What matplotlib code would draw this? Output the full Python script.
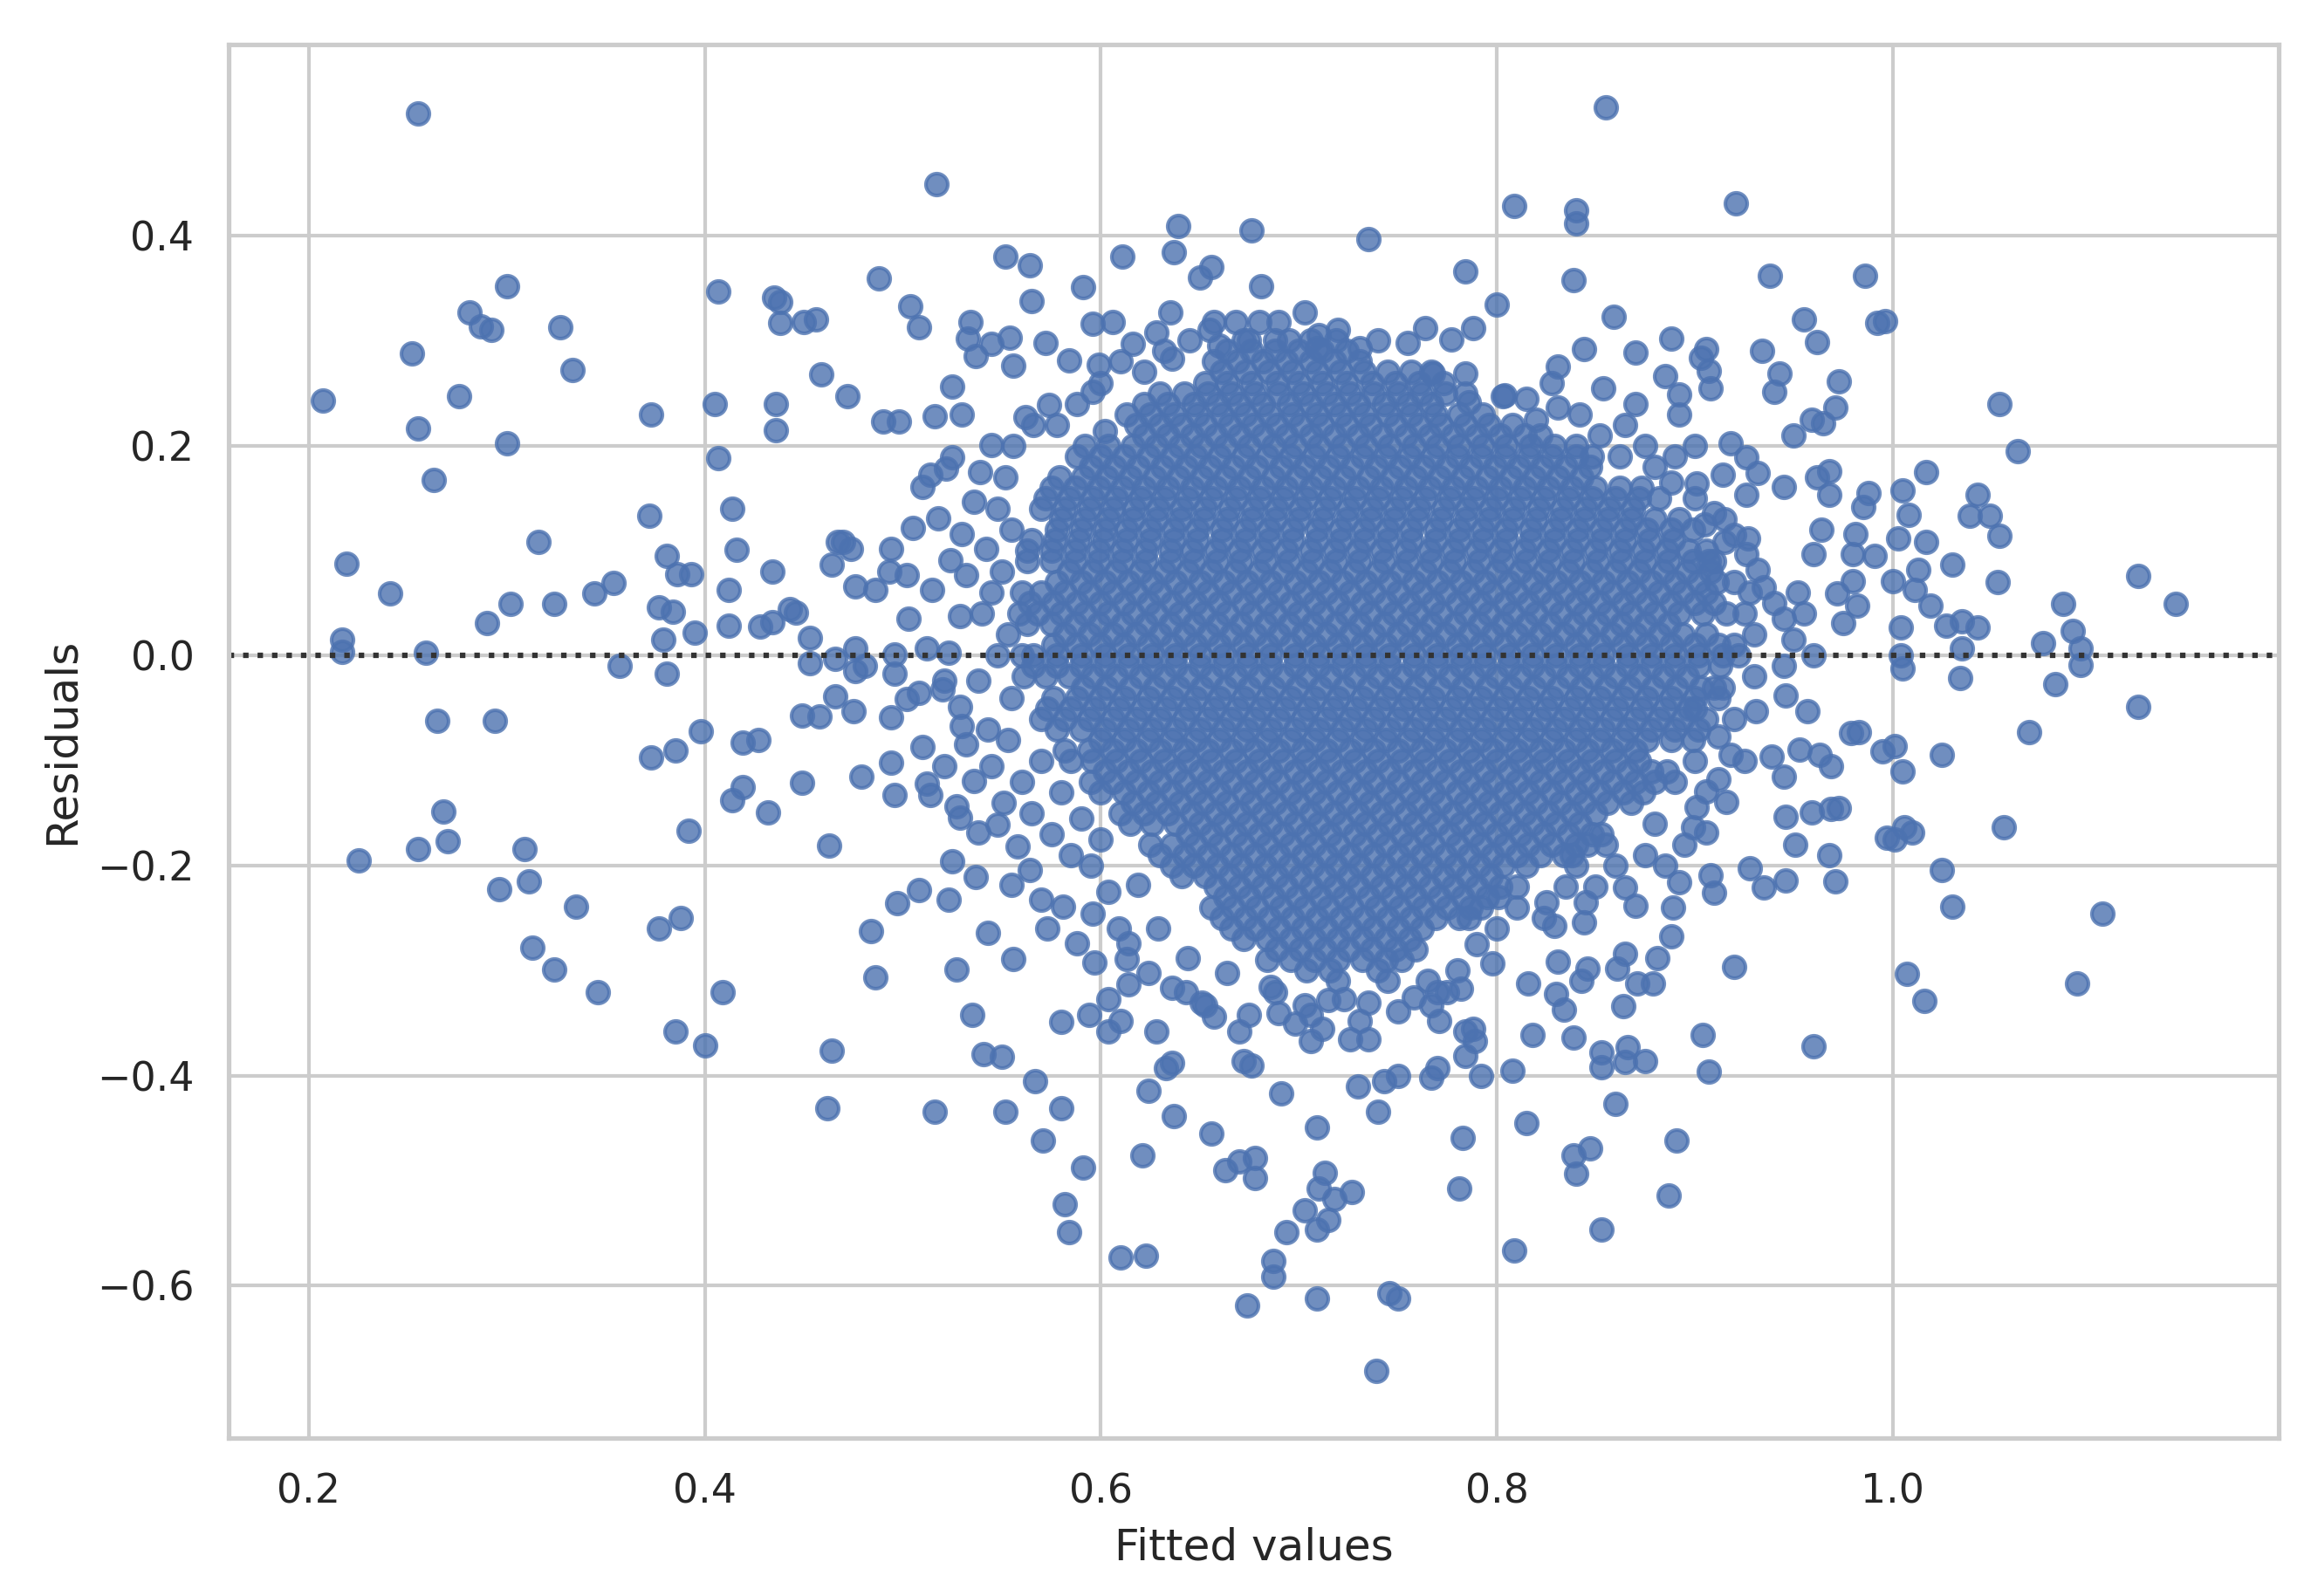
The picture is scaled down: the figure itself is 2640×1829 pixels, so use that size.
import matplotlib
matplotlib.use("Agg")
import matplotlib.pyplot as plt
import seaborn as sns
import numpy as np

# ---------------- data ----------------
# sparse points left of x = 0.5 : (fitted value, residual)
left_pts = [
    (0.207,0.243),(0.255,0.516),(0.219,0.088),(0.241,0.059),(0.217,0.015),(0.217,0.004),
    (0.252,0.288),(0.255,0.216),(0.263,0.167),(0.276,0.247),(0.281,0.327),(0.287,0.314),
    (0.292,0.310),(0.300,0.352),(0.300,0.202),(0.327,0.313),(0.333,0.272),(0.316,0.108),
    (0.290,0.031),(0.302,0.049),(0.324,0.049),(0.344,0.059),(0.354,0.069),(0.357,-0.010),
    (0.259,0.003),(0.265,-0.062),(0.294,-0.062),(0.225,-0.195),(0.255,-0.184),(0.268,-0.148),
    (0.270,-0.177),(0.309,-0.184),(0.311,-0.215),(0.296,-0.222),(0.313,-0.278),(0.324,-0.299),
    (0.335,-0.239),(0.346,-0.320),(0.373,0.230),(0.372,0.133),(0.373,-0.097),(0.377,-0.260),
    (0.381,0.095),(0.377,0.046),(0.379,0.015),(0.381,-0.017),(0.385,-0.090),(0.385,-0.358),
    (0.388,-0.250),(0.386,0.078),(0.393,0.078),(0.384,0.042),(0.392,-0.167),(0.395,0.022),
    (0.398,-0.072),(0.400,-0.371),(0.405,0.240),(0.407,0.347),(0.407,0.188),(0.409,-0.320),
    (0.414,0.140),(0.416,0.101),(0.412,0.063),(0.412,0.029),(0.414,-0.138),(0.419,-0.125),
    (0.419,-0.083),(0.427,-0.080),(0.428,0.028),(0.434,0.032),(0.434,0.080),(0.432,-0.149),
    (0.435,0.341),(0.438,0.337),(0.438,0.317),(0.436,0.240),(0.436,0.215),(0.443,0.044),
    (0.446,0.041),(0.449,-0.121),(0.449,-0.057),(0.450,0.318),(0.453,0.017),(0.453,-0.007),
    (0.458,-0.058),(0.456,0.320),(0.459,0.268),(0.472,0.247),(0.464,0.087),(0.463,-0.181),
    (0.462,-0.431),(0.464,-0.376),(0.467,0.108),(0.470,0.108),(0.466,-0.039),(0.466,-0.003),
    (0.475,-0.053),(0.474,0.102),(0.476,0.007),(0.476,-0.015),(0.476,0.066),(0.479,-0.115),
    (0.481,-0.010),(0.484,-0.262),(0.486,0.063),(0.486,-0.306),(0.488,0.359),(0.490,0.223),
    (0.498,0.223),(0.493,0.080),(0.494,0.102),(0.494,-0.059),(0.496,-0.017),(0.496,0.001),
    (0.496,-0.133),(0.494,-0.102),(0.497,-0.236),
]

# sparse points between x = 0.5 and the dense core
midleft_pts = [
    (0.502,0.077),(0.503,0.035),(0.502,-0.041),(0.504,0.333),(0.505,0.122),(0.508,-0.223),
    (0.508,0.313),(0.510,-0.087),(0.512,-0.122),(0.514,0.172),(0.515,0.063),(0.516,-0.434),
    (0.517,0.449),(0.516,0.228),(0.518,0.131),(0.521,-0.024),(0.523,0.003),(0.524,0.091),
    (0.522,0.178),(0.523,-0.232),(0.525,-0.196),(0.525,0.189),(0.525,0.256),(0.527,-0.143),
    (0.527,-0.299),(0.529,0.038),(0.530,-0.067),(0.530,0.230),(0.533,0.302),(0.534,0.318),
    (0.535,-0.342),(0.537,-0.211),(0.537,0.285),(0.543,-0.264),(0.545,0.297),(0.545,0.201),
    (0.541,-0.379),(0.550,-0.382),(0.552,0.380),(0.552,-0.434),(0.554,0.303),(0.556,-0.289),
    (0.556,0.276),(0.562,0.227),(0.564,0.372),(0.565,0.338),(0.567,-0.405),(0.571,-0.462),
    (0.572,0.298),(0.574,0.239),(0.580,-0.349),(0.580,-0.431),(0.582,-0.522),(0.584,-0.549),
    (0.584,0.281),(0.591,0.351),(0.591,-0.487),(0.594,-0.342),(0.596,0.316),(0.596,0.251),
    (0.597,-0.292),(0.599,0.277),(0.602,0.214),(0.604,-0.327),(0.604,-0.358),(0.606,0.318),
    (0.610,-0.348),(0.610,-0.573),(0.611,0.380),(0.613,-0.289),(0.614,-0.313),(0.616,0.297),
    (0.621,-0.476),(0.623,-0.571),(0.624,-0.414),(0.628,-0.358),(0.628,0.308),(0.633,-0.393),
    (0.636,-0.388),(0.636,0.283),(0.635,0.327),(0.637,-0.438),(0.637,0.384),(0.639,0.409),
    (0.643,-0.320),
    (0.510,0.161),(0.530,0.116),(0.536,0.147),(0.539,0.175),(0.548,0.140),(0.542,0.102),
    (0.532,0.077),(0.545,0.060),(0.540,0.040),(0.512,0.007),(0.508,-0.035),(0.520,-0.032),
    (0.529,-0.049),(0.538,-0.024),(0.543,-0.070),(0.532,-0.084),(0.521,-0.105),(0.514,-0.133),
    (0.536,-0.119),(0.545,-0.105),(0.551,-0.140),(0.529,-0.154),(0.538,-0.168),(0.548,-0.161),
    (0.558,-0.182),(0.564,-0.204),(0.555,-0.218),(0.570,-0.232),(0.573,-0.260),(0.581,-0.239),
    (0.588,-0.274),(0.596,-0.246),(0.604,-0.225),(0.609,-0.260),(0.614,-0.274),(0.619,-0.218),
    (0.624,-0.302),(0.629,-0.260),(0.636,-0.316),(0.644,-0.288),(0.651,-0.330),(0.657,-0.344),
    (0.664,-0.302),(0.670,-0.358),
    (0.552,0.170),(0.555,0.120),(0.550,0.080),(0.553,0.020),(0.548,0.000),(0.555,-0.040),
    (0.553,-0.080),(0.560,-0.120),(0.565,-0.150),(0.575,-0.170),(0.585,-0.190),(0.595,-0.200),
    (0.600,-0.175),(0.590,-0.155),(0.580,-0.130),(0.570,-0.100),(0.556,0.200),(0.566,0.220),
    (0.578,0.220),(0.588,0.240),(0.600,0.260),(0.610,0.280),(0.622,0.270),(0.632,0.290),
    (0.645,0.300),(0.655,0.310),
]

# sparse points above the dense core
top_pts = [
    (0.656,0.370),(0.650,0.360),(0.681,0.352),(0.676,0.405),(0.735,0.397),(0.809,0.428),
    (0.784,0.366),(0.800,0.334),(0.657,0.318),(0.668,0.318),(0.680,0.318),(0.690,0.318),
    (0.703,0.327),(0.710,0.305),(0.709,0.293),(0.764,0.312),(0.777,0.301),(0.788,0.312),
    (0.755,0.298),(0.731,0.293),(0.768,0.269),(0.784,0.269),(0.804,0.248),(0.786,0.241),
    (0.720,0.310),(0.740,0.300),(0.695,0.300),(0.660,0.295),(0.675,0.300),
]

# sparse points right of the core, above zero
right_top_pts = [
    (0.855,0.522),(0.840,0.424),(0.840,0.412),(0.921,0.431),(0.839,0.358),(0.938,0.362),
    (0.986,0.362),(0.859,0.323),(0.955,0.320),(0.992,0.317),(0.962,0.299),(0.888,0.302),
    (0.844,0.292),(0.870,0.289),(0.831,0.275),(0.906,0.292),(0.903,0.284),(0.907,0.271),
    (0.908,0.255),(0.934,0.290),(0.943,0.269),(0.940,0.251),(0.973,0.261),(0.971,0.236),
    (0.965,0.221),(0.959,0.225),(0.950,0.210),(0.885,0.266),(0.892,0.249),(0.892,0.230),
    (0.854,0.255),(0.803,0.247),(0.831,0.236),(1.054,0.240),(1.063,0.195),(1.017,0.175),
    (0.914,0.172),(0.926,0.153),(0.945,0.161),(0.968,0.176),(0.968,0.153),(0.962,0.170),
    (0.988,0.155),(0.985,0.142),(1.005,0.157),(1.008,0.134),(1.003,0.112),(1.043,0.153),
    (1.039,0.133),(1.049,0.133),(1.054,0.114),(1.017,0.108),(1.030,0.087),(1.053,0.070),
    (1.124,0.076),(1.143,0.049),(1.086,0.049),(1.091,0.024),(1.095,0.007),(1.076,0.012),
    (1.004,0.027),(1.019,0.048),(1.027,0.029),(1.035,0.033),(1.043,0.027),(1.035,0.007),
    (1.000,0.071),(1.011,0.063),(1.013,0.082),(0.960,0.097),(0.964,0.120),(0.981,0.116),
    (0.980,0.097),(0.991,0.095),(0.972,0.059),(0.980,0.071),(0.982,0.048),(0.975,0.031),
    (0.932,0.174),(0.926,0.189),(0.918,0.202),(0.901,0.164),(0.910,0.136),(0.915,0.108),
    (0.926,0.097),(0.932,0.082),(0.927,0.112),
    (0.940,0.050),(0.945,0.035),(0.952,0.060),(0.935,0.065),(0.925,0.040),(0.930,0.020),
    (0.950,0.015),(0.960,0.000),(0.945,-0.010),(0.930,-0.020),(0.955,0.040),
    (0.840,0.200),(0.852,0.210),(0.865,0.220),(0.875,0.200),(0.862,0.190),(0.880,0.180),
    (0.890,0.190),(0.900,0.200),(0.870,0.240),(0.820,0.225),(0.815,0.245),(0.828,0.260),
    (0.842,0.230),(0.888,0.165),(0.900,0.150),(0.905,0.125),(0.915,0.130),(0.920,0.115),
    (0.910,0.090),(0.920,0.070),(0.928,0.060),(0.996,0.319),
]

# sparse points right of the core, below zero
right_bottom_pts = [
    (1.124,-0.049),(1.069,-0.073),(1.082,-0.027),(1.095,-0.009),(1.034,-0.021),(1.005,-0.012),
    (1.004,0.000),(0.979,-0.074),(0.995,-0.091),(1.001,-0.086),(1.005,-0.110),(1.025,-0.094),
    (1.056,-0.163),(1.006,-0.163),(0.997,-0.173),(1.025,-0.204),(1.030,-0.239),(1.106,-0.246),
    (1.007,-0.303),(1.016,-0.329),(1.093,-0.312),(0.960,-0.372),(0.920,-0.296),(0.904,-0.361),
    (0.907,-0.396),(0.891,-0.462),(0.887,-0.514),(0.860,-0.427),(0.853,-0.546),(0.809,-0.566),
    (0.815,-0.445),(0.839,-0.476),(0.847,-0.469),(0.840,-0.493),(0.818,-0.361),(0.839,-0.364),
    (0.853,-0.378),(0.866,-0.373),(0.875,-0.386),(0.853,-0.392),(0.865,-0.387),(0.864,-0.334),
    (0.816,-0.312),(0.830,-0.322),(0.834,-0.337),(0.846,-0.298),(0.843,-0.310),(0.831,-0.291),
    (0.861,-0.298),(0.865,-0.284),(0.871,-0.312),(0.879,-0.312),(0.881,-0.288),(0.888,-0.267),
    (0.798,-0.293),(0.844,-0.254),(0.829,-0.257),(0.824,-0.250),(0.870,-0.238),(0.865,-0.221),
    (0.889,-0.240),(0.892,-0.216),(0.910,-0.226),(0.908,-0.209),(0.935,-0.221),(0.946,-0.214),
    (0.928,-0.202),(0.971,-0.215),(0.968,-0.190),(0.951,-0.180),(0.946,-0.153),(0.959,-0.149),
    (0.969,-0.146),(0.973,-0.145),(0.939,-0.096),(0.945,-0.115),(0.953,-0.089),(0.963,-0.094),
    (0.969,-0.105),(0.957,-0.053),(0.946,-0.038),(0.931,-0.053),(0.918,-0.094),(0.912,-0.077),
    (0.916,-0.139),(0.912,-0.118),(0.906,-0.129),(0.901,-0.144),(0.899,-0.163),(0.906,-0.168),
    (0.983,-0.073),(1.001,-0.175),(1.010,-0.168),
    (0.900,-0.050),(0.910,-0.030),(0.920,-0.060),(0.925,-0.100),(0.900,-0.100),(0.890,-0.120),
    (0.895,-0.180),(0.880,-0.160),(0.875,-0.190),(0.885,-0.200),(0.860,-0.200),(0.855,-0.180),
    (0.850,-0.220),(0.845,-0.235),(0.835,-0.220),(0.840,-0.200),(0.825,-0.235),(0.810,-0.240),
    (0.800,-0.260),(0.790,-0.275),(0.780,-0.300),(0.775,-0.320),(0.765,-0.310),
]

# sparse points below the core
bottom_pts = [
    (0.653,-0.333),(0.656,-0.455),(0.663,-0.490),(0.670,-0.482),(0.678,-0.478),(0.678,-0.497),
    (0.674,-0.619),(0.672,-0.386),(0.676,-0.390),(0.675,-0.342),(0.687,-0.576),(0.687,-0.591),
    (0.688,-0.320),(0.691,-0.417),(0.694,-0.549),(0.703,-0.528),(0.709,-0.546),(0.715,-0.537),
    (0.710,-0.507),(0.713,-0.492),(0.718,-0.517),(0.727,-0.511),(0.709,-0.612),(0.709,-0.449),
    (0.739,-0.681),(0.746,-0.607),(0.750,-0.612),(0.740,-0.434),(0.730,-0.410),(0.743,-0.405),
    (0.750,-0.400),(0.767,-0.402),(0.770,-0.393),(0.784,-0.381),(0.789,-0.367),(0.788,-0.355),
    (0.781,-0.507),(0.783,-0.459),(0.706,-0.367),(0.735,-0.365),(0.726,-0.365),(0.731,-0.348),
    (0.750,-0.339),(0.771,-0.348),(0.767,-0.333),(0.770,-0.320),(0.782,-0.317),(0.784,-0.358),
    (0.706,-0.342),(0.703,-0.333),(0.715,-0.328),(0.723,-0.327),(0.792,-0.400),(0.808,-0.395),
    (0.686,-0.315),(0.698,-0.350),(0.720,-0.310),(0.735,-0.330),(0.745,-0.310),(0.758,-0.325),
    (0.690,-0.340),(0.712,-0.355),
]

# dense core, even rows: residual level of each row and the fitted values along it
core_levels = [0.30, 0.28, 0.26, 0.24, 0.22, 0.20, 0.18, 0.16, 0.14, 0.12, 0.10,
               0.08, 0.06, 0.04, 0.02, 0.00, -0.02, -0.04, -0.06, -0.08, -0.10,
               -0.12, -0.14, -0.16, -0.18, -0.20, -0.22, -0.24, -0.26, -0.28, -0.30]
core_rows = [
    [0.672,0.688,0.706,0.719],
    [0.657,0.669,0.682,0.694,0.706,0.718,0.731],
    [0.653,0.664,0.676,0.689,0.700,0.712,0.724,0.737,0.749,0.761,0.773],
    [0.622,0.634,0.647,0.659,0.670,0.682,0.695,0.706,0.718,0.730,0.743,0.755,0.767],
    [0.618,0.630,0.641,0.653,0.665,0.677,0.689,0.701,0.712,0.724,0.736,0.749,0.761,0.772,0.784,0.796,0.808],
    [0.592,0.604,0.616,0.628,0.640,0.651,0.663,0.675,0.687,0.698,0.710,0.722,0.734,0.746,0.758,0.770,0.781,0.793,0.805,0.817,0.829],
    [0.595,0.607,0.619,0.631,0.643,0.655,0.667,0.679,0.691,0.703,0.715,0.727,0.739,0.751,0.763,0.775,0.787,0.799,0.811,0.823,0.835,0.847],
    [0.575,0.587,0.599,0.611,0.622,0.634,0.646,0.658,0.670,0.682,0.694,0.706,0.718,0.730,0.742,0.754,0.766,0.778,0.790,0.802,0.814,0.826,0.838,0.850,0.862,0.873],
    [0.570,0.582,0.594,0.606,0.617,0.629,0.641,0.653,0.665,0.677,0.689,0.701,0.713,0.725,0.737,0.749,0.761,0.773,0.785,0.797,0.809,0.821,0.833,0.845,0.857,0.869],
    [0.578,0.590,0.602,0.613,0.625,0.637,0.649,0.661,0.673,0.685,0.697,0.709,0.721,0.733,0.745,0.757,0.769,0.781,0.793,0.805,0.817,0.829,0.841,0.853,0.865,0.876,0.888,0.899],
    [0.563,0.575,0.587,0.599,0.611,0.623,0.635,0.646,0.658,0.670,0.682,0.694,0.706,0.718,0.730,0.742,0.754,0.766,0.778,0.790,0.802,0.814,0.826,0.838,0.850,0.862,0.874,0.886,0.897,0.906],
    [0.584,0.596,0.608,0.620,0.632,0.644,0.656,0.668,0.680,0.692,0.704,0.716,0.728,0.740,0.752,0.764,0.776,0.788,0.800,0.812,0.824,0.836,0.848,0.860,0.872,0.884,0.896,0.908],
    [0.560,0.570,0.582,0.594,0.606,0.618,0.630,0.642,0.654,0.666,0.678,0.690,0.702,0.714,0.726,0.738,0.750,0.762,0.774,0.786,0.798,0.810,0.822,0.834,0.846,0.858,0.870,0.882,0.894,0.906],
    [0.559,0.568,0.580,0.592,0.604,0.616,0.628,0.640,0.652,0.664,0.676,0.688,0.700,0.712,0.724,0.736,0.748,0.760,0.772,0.784,0.796,0.808,0.820,0.832,0.844,0.856,0.868,0.880,0.892,0.904,0.916],
    [0.582,0.594,0.606,0.618,0.630,0.642,0.654,0.666,0.678,0.690,0.702,0.714,0.726,0.738,0.750,0.762,0.774,0.786,0.798,0.810,0.822,0.834,0.846,0.858,0.870,0.882,0.894,0.906],
    [0.560,0.566,0.578,0.590,0.602,0.614,0.626,0.638,0.650,0.662,0.674,0.686,0.698,0.710,0.722,0.734,0.746,0.758,0.770,0.782,0.794,0.806,0.818,0.830,0.842,0.854,0.866,0.878,0.890,0.902,0.914,0.922],
    [0.561,0.572,0.584,0.596,0.608,0.620,0.632,0.644,0.656,0.668,0.680,0.692,0.704,0.716,0.728,0.740,0.752,0.764,0.776,0.788,0.800,0.812,0.824,0.836,0.848,0.860,0.872,0.884,0.896],
    [0.576,0.588,0.600,0.612,0.624,0.636,0.648,0.660,0.672,0.684,0.696,0.708,0.720,0.732,0.744,0.756,0.768,0.780,0.792,0.804,0.816,0.828,0.840,0.852,0.864,0.876,0.888,0.900,0.912],
    [0.570,0.582,0.594,0.606,0.618,0.630,0.642,0.654,0.666,0.678,0.690,0.702,0.714,0.726,0.738,0.750,0.762,0.774,0.786,0.798,0.810,0.822,0.834,0.846,0.858,0.870,0.882,0.894,0.906],
    [0.600,0.612,0.624,0.636,0.648,0.660,0.672,0.684,0.696,0.708,0.720,0.732,0.744,0.756,0.768,0.780,0.792,0.804,0.816,0.828,0.840,0.852,0.864,0.876,0.888,0.899],
    [0.585,0.596,0.608,0.620,0.632,0.644,0.656,0.668,0.680,0.692,0.704,0.716,0.728,0.740,0.752,0.764,0.776,0.788,0.800,0.812,0.824,0.836,0.848,0.860,0.872],
    [0.595,0.606,0.618,0.630,0.642,0.654,0.666,0.678,0.690,0.702,0.714,0.726,0.738,0.750,0.762,0.774,0.786,0.798,0.810,0.822,0.834,0.846,0.858,0.870,0.880],
    [0.616,0.628,0.640,0.652,0.664,0.676,0.688,0.700,0.712,0.724,0.736,0.748,0.760,0.772,0.784,0.796,0.808,0.820,0.832,0.844,0.856,0.868],
    [0.615,0.626,0.638,0.650,0.662,0.674,0.686,0.698,0.710,0.722,0.734,0.746,0.758,0.770,0.782,0.794,0.806,0.818,0.830,0.842],
    [0.625,0.636,0.648,0.660,0.672,0.684,0.696,0.708,0.720,0.732,0.744,0.756,0.768,0.780,0.792,0.804,0.816,0.828,0.840,0.846],
    [0.636,0.647,0.659,0.671,0.683,0.695,0.707,0.719,0.731,0.743,0.755,0.767,0.779,0.791,0.803,0.815],
    [0.658,0.670,0.682,0.694,0.706,0.718,0.730,0.742,0.754,0.766,0.778,0.790,0.802,0.810],
    [0.656,0.667,0.679,0.691,0.703,0.715,0.727,0.739,0.751,0.763,0.775,0.787,0.792],
    [0.666,0.678,0.690,0.702,0.714,0.726,0.738,0.750,0.762],
    [0.689,0.701,0.713,0.725,0.737,0.749,0.759],
    [0.704,0.716,0.740],
]

# dense core, odd rows (in between the even rows)
core_levels_b = [0.29, 0.27, 0.25, 0.23, 0.21, 0.19, 0.17, 0.15, 0.13, 0.11, 0.09,
                 0.07, 0.05, 0.03, 0.01, -0.01, -0.03, -0.05, -0.07, -0.09, -0.11,
                 -0.13, -0.15, -0.17, -0.19, -0.21, -0.23, -0.25, -0.27, -0.29]
core_rows_b = [
    [0.664,0.676,0.688,0.700,0.712,0.724],
    [0.661,0.673,0.685,0.697,0.709,0.721,0.733,0.745,0.757,0.767],
    [0.630,0.642,0.654,0.666,0.678,0.690,0.702,0.714,0.726,0.738,0.750,0.762,0.774,0.784],
    [0.613,0.625,0.637,0.649,0.661,0.673,0.685,0.697,0.709,0.721,0.733,0.745,0.757,0.769,0.781,0.793],
    [0.622,0.634,0.646,0.658,0.670,0.682,0.694,0.706,0.718,0.730,0.742,0.754,0.766,0.778,0.790,0.802,0.814,0.822],
    [0.588,0.600,0.612,0.624,0.636,0.648,0.660,0.672,0.684,0.696,0.708,0.720,0.732,0.744,0.756,0.768,0.780,0.792,0.804,0.816,0.828,0.840,0.848],
    [0.579,0.591,0.603,0.615,0.627,0.639,0.651,0.663,0.675,0.687,0.699,0.711,0.723,0.735,0.747,0.759,0.771,0.783,0.795,0.807,0.819,0.831,0.843],
    [0.572,0.584,0.596,0.608,0.620,0.632,0.644,0.656,0.668,0.680,0.692,0.704,0.716,0.728,0.740,0.752,0.764,0.776,0.788,0.800,0.812,0.824,0.836,0.848,0.860,0.872,0.882],
    [0.580,0.592,0.604,0.616,0.628,0.640,0.652,0.664,0.676,0.688,0.700,0.712,0.724,0.736,0.748,0.760,0.772,0.784,0.796,0.808,0.820,0.832,0.844,0.856,0.868,0.880,0.892],
    [0.565,0.577,0.589,0.601,0.613,0.625,0.637,0.649,0.661,0.673,0.685,0.697,0.709,0.721,0.733,0.745,0.757,0.769,0.781,0.793,0.805,0.817,0.829,0.841,0.853,0.865,0.877,0.889],
    [0.563,0.575,0.587,0.599,0.611,0.623,0.635,0.647,0.659,0.671,0.683,0.695,0.707,0.719,0.731,0.743,0.755,0.767,0.779,0.791,0.803,0.815,0.827,0.839,0.851,0.863,0.875,0.887,0.899,0.907],
    [0.578,0.590,0.602,0.614,0.626,0.638,0.650,0.662,0.674,0.686,0.698,0.710,0.722,0.734,0.746,0.758,0.770,0.782,0.794,0.806,0.818,0.830,0.842,0.854,0.866,0.878,0.890,0.902,0.911],
    [0.564,0.576,0.588,0.600,0.612,0.624,0.636,0.648,0.660,0.672,0.684,0.696,0.708,0.720,0.732,0.744,0.756,0.768,0.780,0.792,0.804,0.816,0.828,0.840,0.852,0.864,0.876,0.888,0.900,0.910],
    [0.563,0.575,0.587,0.599,0.611,0.623,0.635,0.647,0.659,0.671,0.683,0.695,0.707,0.719,0.731,0.743,0.755,0.767,0.779,0.791,0.803,0.815,0.827,0.839,0.851,0.863,0.875,0.887],
    [0.576,0.588,0.600,0.612,0.624,0.636,0.648,0.660,0.672,0.684,0.696,0.708,0.720,0.732,0.744,0.756,0.768,0.780,0.792,0.804,0.816,0.828,0.840,0.852,0.864,0.876,0.888,0.900,0.912,0.920],
    [0.566,0.578,0.590,0.602,0.614,0.626,0.638,0.650,0.662,0.674,0.686,0.698,0.710,0.722,0.734,0.746,0.758,0.770,0.782,0.794,0.806,0.818,0.830,0.842,0.854,0.866,0.878,0.890,0.902,0.913],
    [0.591,0.603,0.615,0.627,0.639,0.651,0.663,0.675,0.687,0.699,0.711,0.723,0.735,0.747,0.759,0.771,0.783,0.795,0.807,0.819,0.831,0.843,0.855,0.867,0.879,0.891,0.903,0.914],
    [0.573,0.585,0.597,0.609,0.621,0.633,0.645,0.657,0.669,0.681,0.693,0.705,0.717,0.729,0.741,0.753,0.765,0.777,0.789,0.801,0.813,0.825,0.837,0.849,0.861,0.873,0.885,0.897],
    [0.578,0.590,0.602,0.614,0.626,0.638,0.650,0.662,0.674,0.686,0.698,0.710,0.722,0.734,0.746,0.758,0.770,0.782,0.794,0.806,0.818,0.830,0.842,0.854,0.866,0.878,0.890,0.902],
    [0.582,0.594,0.606,0.618,0.630,0.642,0.654,0.666,0.678,0.690,0.702,0.714,0.726,0.738,0.750,0.762,0.774,0.786,0.798,0.810,0.822,0.834,0.846,0.858,0.870],
    [0.602,0.614,0.626,0.638,0.650,0.662,0.674,0.686,0.698,0.710,0.722,0.734,0.746,0.758,0.770,0.782,0.794,0.806,0.818,0.830,0.842,0.854,0.866,0.878,0.886],
    [0.600,0.612,0.624,0.636,0.648,0.660,0.672,0.684,0.696,0.708,0.720,0.732,0.744,0.756,0.768,0.780,0.792,0.804,0.816,0.828,0.840,0.852,0.864,0.874],
    [0.610,0.622,0.634,0.646,0.658,0.670,0.682,0.694,0.706,0.718,0.730,0.742,0.754,0.766,0.778,0.790,0.802,0.814,0.826,0.838,0.850],
    [0.644,0.656,0.668,0.680,0.692,0.704,0.716,0.728,0.740,0.752,0.764,0.776,0.788,0.800,0.812,0.824,0.836,0.848,0.853],
    [0.630,0.642,0.654,0.666,0.678,0.690,0.702,0.714,0.726,0.738,0.750,0.762,0.774,0.786,0.798,0.810,0.822,0.834,0.838],
    [0.641,0.653,0.665,0.677,0.689,0.701,0.713,0.725,0.737,0.749,0.761,0.773,0.785,0.797],
    [0.663,0.675,0.687,0.699,0.711,0.723,0.735,0.747,0.759,0.771,0.783,0.795,0.801],
    [0.661,0.673,0.685,0.697,0.709,0.721,0.733,0.745,0.757,0.769,0.781,0.786],
    [0.672,0.684,0.696,0.708,0.720,0.732,0.744,0.756],
    [0.684,0.696,0.708,0.720,0.732,0.744,0.752],
]
assert len(core_levels) == len(core_rows)
assert len(core_levels_b) == len(core_rows_b)

x_label = "Fitted values"
y_label = "Residuals"
x_ticks = [0.2, 0.4, 0.6, 0.8, 1.0]
y_ticks = [-0.6, -0.4, -0.2, 0.0, 0.2, 0.4]

# ---------------- assemble ----------------
fitted, resid = [], []
for group in (left_pts, midleft_pts, top_pts, right_top_pts, right_bottom_pts, bottom_pts):
    for fx, ry in group:
        fitted.append(fx)
        resid.append(ry)
for levels, rows in ((core_levels, core_rows), (core_levels_b, core_rows_b)):
    for level, row in zip(levels, rows):
        for fx in row:
            fitted.append(fx)
            resid.append(level)
fitted = np.array(fitted)
resid = np.array(resid)

# ---------------- plot ----------------
sns.set_theme(style="whitegrid")
plt.rcParams['font.family'] = ['DejaVu Sans']

W, H, DPI = 2640, 1829, 300
fig = plt.figure(figsize=(W / DPI, H / DPI), dpi=DPI)
ax = fig.add_axes([262 / W, (H - 1648) / H, (2611 - 262) / W, (1648 - 51) / H])

color = sns.color_palette("deep")[0]
ax.axhline(0, ls=":", c=".2")
ax.scatter(fitted, resid, color=color, s=36, linewidths=1, alpha=0.8)

ax.set_xlim(0.1595, 1.195)
ax.set_ylim(-0.745, 0.582)
ax.set_xticks(x_ticks)
ax.set_yticks(y_ticks)
ax.set_xlabel(x_label)
ax.set_ylabel(y_label)

fig.savefig("out.png", dpi=DPI)
